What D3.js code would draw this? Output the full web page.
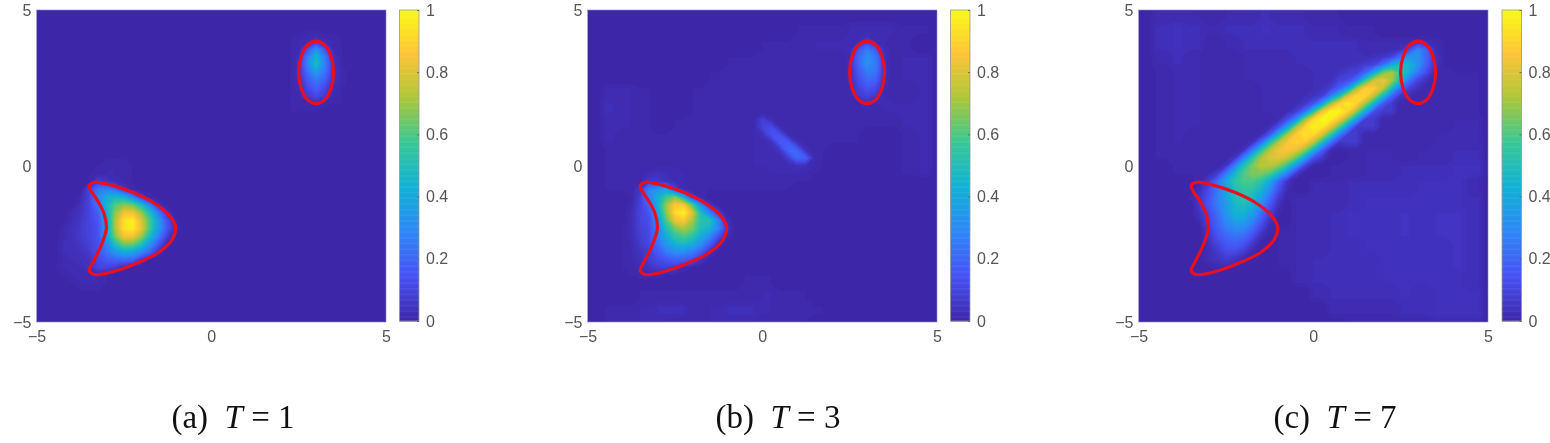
<!DOCTYPE html>
<html><head><meta charset="utf-8">
<script src="https://cdnjs.cloudflare.com/ajax/libs/d3/7.8.5/d3.min.js"></script>
<style>html,body{margin:0;background:#fff}svg{display:block}</style></head>
<body><svg id="c" width="1550" height="443"></svg>
<script>
// Colour map stops
const colorStops = ["#3e26a8","#4852f4","#2e87f7","#12b1d6","#37c897","#abc739","#fec338","#f9fb15"];
const xTicks = [-5,0,5], yTicks = [-5,0,5], barTicks = [0,0.2,0.4,0.6,0.8,1];
const captionLabels = ["(a)","(b)","(c)"], captionT = ["1","3","7"];

// Red outlines, data coordinates
const crescentX = [-3.33,-2.81,-2.23,-1.66,-1.23,-1.02,-1.13,-1.52,-2.04,-2.61,-3.09,-3.38,-3.49,-3.38,-3.19,-3.03,-3.0,-3.07,-3.26,-3.45,-3.49];
const crescentY = [-0.52,-0.63,-0.85,-1.17,-1.55,-1.95,-2.38,-2.78,-3.07,-3.32,-3.46,-3.47,-3.34,-3.07,-2.65,-2.17,-1.95,-1.52,-1.10,-0.78,-0.62];
const ellipseX = [3,3.25,3.43,3.5,3.43,3.25,3,2.75,2.57,2.5,2.57,2.75];
const ellipseY = [4,3.87,3.5,3,2.5,2.13,2,2.13,2.5,3,3.5,3.87];

// Density rows in percent: [y, first x, values at 0.25 steps...]
const densityA = [
[0.25,-3,1,1,1],
[0,-3.25,1,1,2,1,1],
[-0.25,-3.5,1,2,2,2,1,1],
[-0.5,-3.5,1,8,6,3,2,1],
[-0.75,-3.5,10,25,28,22,6,2],
[-1,-3.75,2,10,30,42,48,45,30,8,2],
[-1.25,-3.75,4,10,24,45,62,68,65,50,28,5],
[-1.5,-4,2,5,10,18,42,68,85,85,70,50,25,5],
[-1.75,-4,3,6,10,15,38,72,94,98,80,58,35,14,1],
[-2,-4.25,2,4,7,10,14,36,72,94,97,82,58,35,15,3],
[-2.25,-4.25,2,4,7,10,14,38,66,85,85,70,48,27,8],
[-2.5,-4.25,3,4,6,9,13,28,52,66,65,52,34,15,2],
[-2.75,-4.25,3,4,5,7,14,25,35,42,40,32,20,4],
[-3,-4.25,2,3,4,5,12,17,20,22,20,7,1],
[-3.25,-4.5,1,2,2,3,5,10,10,8,2],
[-3.5,-4.25,1,2,2,2,2,1],
[-3.75,-4,1,2,2,2,1],
[-4,-3.75,1,1,1],
// ellipse
[4.25,2.5,1,2,2,1,1],
[4,2.25,1,2,3,6,3,2,1],
[3.75,2.25,1,2,14,32,15,2,1],
[3.5,2.25,1,4,26,46,27,5,1],
[3.25,2.25,1,4,28,50,28,5,1],
[3,2.25,1,4,22,36,24,5,2],
[2.75,2.25,1,3,16,26,18,4,2],
[2.5,2.25,1,3,11,19,12,3,1],
[2.25,2.25,1,2,8,12,8,2,1],
[2,2.25,1,1,2,3,2,1,1],
[1.75,2.25,1,1,1,1]
];
const densityB = [
[0,-3.25,1,2,2,2,1,1],
[-0.25,-3.5,1,3,4,3,2,2,1],
[-0.5,-3.5,2,8,7,5,3,2,1],
[-0.75,-3.5,6,28,35,38,12,3,1],
[-1,-3.75,1,8,28,42,58,68,45,8,2],
[-1.25,-3.75,2,9,20,42,70,88,88,62,30,5,1],
[-1.5,-3.75,3,10,15,38,68,92,99,80,48,28,8,1],
[-1.75,-3.75,3,10,13,32,60,82,88,72,52,52,28,3],
[-2,-4,1,3,9,12,28,50,65,72,65,50,45,28,6],
[-2.25,-4,1,3,8,12,26,42,55,60,55,42,30,14,2],
[-2.5,-4,1,2,7,11,22,35,44,48,42,32,18,3],
[-2.75,-4,1,2,5,9,17,26,32,32,27,18,4,1],
[-3,-4,1,2,4,8,12,16,19,18,14,5,1],
[-3.25,-4,1,1,3,5,8,8,7,3,1],
[-3.5,-3.75,1,2,2,2,1,1],
// faint streak
[1.75,-0.25,1,1,1],
[1.5,-0.25,2,8,3,1,1],
[1.25,-0.5,1,2,10,13,3,1,1],
[1,-0.5,1,2,4,14,14,3,1,1],
[0.75,-0.5,1,2,2,4,16,17,4,1,1],
[0.5,-0.5,1,2,2,2,6,20,20,5,1,1],
[0.25,-0.5,1,2,2,2,2,8,20,18,2,1],
[0,-0.5,1,2,2,2,2,2,4,3,2,1],
[-0.25,-0.25,1,1,2,2,2,2,2,1],
[-0.5,-0.25,1,1,1,1,1,1,1],
// ellipse
[4.25,2.25,1,1,2,2,2,1,1],
[4,2.25,1,2,3,8,3,2,1],
[3.75,2.25,1,2,14,26,16,3,1],
[3.5,2.25,1,3,20,32,25,4,1],
[3.25,2.25,1,3,20,33,26,4,1],
[3,2.25,1,3,16,26,24,4,1],
[2.75,2.25,1,3,13,21,19,3,1],
[2.5,2.25,1,2,10,15,12,3,1],
[2.25,2.25,1,2,7,10,7,2,1],
[2,2.25,1,1,2,4,2,1,1],
[1.75,2.25,1,1,1,1,1,1]
];
const densityC = [
[4,2.75,2,3,3,2],
[3.75,2.5,4,12,28,18,3],
[3.5,1.5,3,4,6,10,22,35,33,20,5],
[3.25,0.75,3,4,5,8,10,22,40,50,45,33,18,4],
[3,0.5,3,5,8,10,20,42,65,72,55,42,25,12,2],
[2.75,0.25,3,4,10,12,25,55,78,84,72,48,24,10,4],
[2.5,0,3,5,8,18,35,70,88,88,76,50,22,10,4],
[2.25,-0.25,3,5,8,25,50,80,92,90,74,48,20,6,3],
[2,-0.5,3,6,14,36,70,90,97,90,70,44,16,2],
[1.75,-0.75,3,8,22,52,84,98,99,90,68,40,12,1],
[1.5,-1,3,12,30,66,92,100,98,86,64,35,8,1],
[1.25,-1.25,3,14,38,70,90,98,96,82,60,30,6,1],
[1,-1.5,3,16,45,72,88,94,92,78,55,26,4],
[0.75,-1.75,4,22,52,74,86,90,88,74,50,22,3],
[0.5,-2,5,26,55,74,84,86,82,68,44,18,2],
[0.25,-2.25,6,28,54,72,80,82,76,62,38,14,2],
[0,-2.5,6,28,52,66,74,74,68,54,32,10,1],
[-0.25,-3,2,8,26,46,60,67,66,60,46,26,7],
[-0.5,-3.25,2,8,22,40,54,60,60,54,40,20,5],
[-0.75,-3.25,4,12,24,38,50,55,54,46,32,14,3],
[-1,-3.5,2,6,14,26,38,50,54,48,38,24,8,1],
[-1.25,-3.25,7,15,26,36,46,50,44,32,16,4],
[-1.5,-3.25,5,12,22,34,44,45,38,24,10,2],
[-1.75,-3.25,3,10,20,30,38,38,30,17,5],
[-2,-3,8,18,26,30,30,22,10,2],
[-2.25,-3,6,14,20,24,22,14,4],
[-2.5,-3,4,10,16,18,15,7,1],
[-2.75,-3,3,7,12,12,8,2],
[-3,-3.25,1,3,5,7,5,2],
[-3.25,-3,1,2,2,1]
];
// Faint background tiles in percent: [y, first x, values at 0.5 steps...]
const hazeB = [
[4.5,1,1,1,1,2,2,2,1,1],
[4,0,1,1,1,2,2,1,1,1,1],
[3.5,-1,1,1,1,1,1,1,1,1,1,1,2,2],
[3,-1.5,1,1,1,1,1,1,1,1,1,1,1,2,2],
[2.5,-4.5,2,2,1,0,0,1,1,1,1,1,1,1,1,1,1,1,1,1,2],
[2,-4.5,3,2,1,0,0,1,1,1,1,1,1,1,1,1,1,1,2,2,2],
[1.5,-4.5,2,2,1,0,1,1,1,1,1,1,1,1,1,1,1,1,1,2,2],
[1,-4.5,2,1,1,1,1,1,1,1,1,1,1,1,1,1,1,0,0,1,2],
[0.5,-4.5,1,1,1,1,1,1,1,1,1,1,1,1,0,0,0,0,0,1,2],
[0,-4.5,1,1,1,1,1,1,1,1,1,1,1,0,0,0,0,0,0,1,2],
[-0.5,-4.5,1,1,1,1,1,1,1,1,1,1,1],
[-3.5,-0.5,1,1],
[-4,-3.5,1,1,1,1,1,1,1,2,1,1],
[-4.5,-4.5,1,1,2,3,3,1,2,3,3,2,1,1,1],
[-5,-4.5,1,1,2,2,1,1,2,2,2,1,1,1]
];
const hazeC = [
[5,-4.5,2,2,2,1,2,2,3,2,2,1,1],
[4.5,-4.5,3,4,3,2,3,3,4,3,3,2,2,1,1],
[4,-4.5,3,4,3,1,2,3,3,3,3,3,3,3,2,2,2,1,1],
[3.5,-4.5,2,3,2,1,1,2,2,2,3,3,3,3,3,3,2,2,1],
[3,-4.5,1,2,2,1,1,2,2,2,2,3,3,4,4],
[2.5,-4.5,1,2,2,1,1,1,2,2,2,3,3,4,5,6],
[2,-4.5,1,2,2,1,1,1,2,2,2,3,4,4,6,7],
[1.5,-4.5,1,2,2,1,1,1,1,2,2,3,4,5,7],
[1,-4.5,1,2,1,1,1,1,1,2,2,4,5,7],
[0.5,-4.5,1,1,1,1,1,1,1,2,4,6],
[0,-4.5,0,1,1,1,1,1,2,4],
[3,3,1,1,1,1],[2.5,2.5,1,1,1,1,1],[2,2.5,1,1,1,1,1],
[1.5,1.5,1,1,1,1,1,2,2],[1,1.5,1,1,1,1,2,2,2],
[0.5,1,1,2,2,1,2,2,3,3],
[0,0.5,1,1,2,2,3,3,3,4,4],
[-0.5,0,2,2,3,3,3,3,4,4,4,2],
[-1,-0.5,2,2,2,3,4,4,4,4,4,4,3],
[-1.5,-0.5,2,2,3,4,4,4,5,4,5,5,3],
[-2,-1,1,2,2,3,4,4,4,5,4,5,5,3],
[-2.5,-1,1,2,2,3,3,4,4,4,4,4,5,3],
[-3,-1,1,2,3,3,3,3,4,4,4,4,5,3],
[-3.5,-0.5,2,3,3,3,3,4,4,4,4,4,3],
[-4,0,2,3,3,3,3,4,3,4,4,4],
[-4.5,0.5,2,2,2,2,3,3,4,4,4],
[-5,1,1,1,1,1,1,2,2,2]
];

// Layout
const panels = [
  {d:densityA,h:[],    x0:36.5, x1:386,  bx:399.5, cap:233},
  {d:densityB,h:hazeB, x0:587.5,x1:937,  bx:950.5, cap:778},
  {d:densityC,h:hazeC, x0:1138.5,x1:1488,bx:1502,  cap:1335}
];
const plotTop = 10, plotBottom = 322, barW = 19.5;
const TICK = "#555", N = 41;

const color = d3.scaleLinear().domain(colorStops.map((_,i)=>i/7)).range(colorStops).interpolate(d3.interpolateRgb);
const svg = d3.select("#c").style("filter","blur(0.55px)");

function buildGrid(p){
  const g = new Float64Array(N*N);
  const ix = x=>Math.round((x+5)/0.25), iy = y=>Math.round((5-y)/0.25);
  const set=(i,j,v)=>{ if(i>=0&&i<N&&j>=0&&j<N){const k=j*N+i; g[k]=Math.max(g[k],v/100);} };
  p.h.forEach(r=>r.slice(2).forEach((v,k)=>{
    const i=ix(r[1]+k*0.5), j=iy(r[0]);
    set(i,j,v); set(i+1,j,v); set(i,j+1,v); set(i+1,j+1,v);
  }));
  p.d.forEach(r=>r.slice(2).forEach((v,k)=>{ set(ix(r[1]+k*0.25), iy(r[0]), v); }));
  return g;
}

panels.forEach((p,idx)=>{
  const X = d3.scaleLinear().domain([-5,5]).range([p.x0,p.x1]);
  const Y = d3.scaleLinear().domain([-5,5]).range([plotBottom,plotTop]);
  const root = svg.append("g");
  const cid = "clip"+idx;
  root.append("clipPath").attr("id",cid).append("rect")
    .attr("x",p.x0).attr("y",plotTop).attr("width",p.x1-p.x0).attr("height",plotBottom-plotTop);
  const plot = root.append("g").attr("clip-path",`url(#${cid})`);
  plot.append("rect").attr("x",p.x0).attr("y",plotTop).attr("width",p.x1-p.x0).attr("height",plotBottom-plotTop).attr("fill",color(0));

  const path = d3.geoPath(d3.geoTransform({point(x,y){
    this.stream.point(X(-5+(x-0.5)*0.25), Y(5-(y-0.5)*0.25));
  }}));
  const contours = d3.contours().size([N,N]).thresholds(d3.range(0.01,1.001,0.01))(Array.from(buildGrid(p)));
  plot.selectAll("path.band").data(contours).join("path").attr("class","band")
    .attr("d",path).attr("fill",d=>color(d.value));

  const closed = d3.line().x(d=>X(d[0])).y(d=>Y(d[1])).curve(d3.curveCatmullRomClosed);
  [[crescentX,crescentY],[ellipseX,ellipseY]].forEach(([xs,ys])=>{
    root.append("path").attr("d",closed(xs.map((x,i)=>[x,ys[i]])))
      .attr("fill","none").attr("stroke","#e8101e").attr("stroke-width",3.2);
  });
  root.append("rect").attr("x",p.x0).attr("y",plotTop).attr("width",p.x1-p.x0).attr("height",plotBottom-plotTop)
    .attr("fill","none").attr("stroke","#8d88bd").attr("stroke-width",0.6);

  const styleAxis = g=>{
    g.select(".domain").remove();
    g.selectAll("text").attr("fill",TICK).style("font-family","'Liberation Sans',Arial,sans-serif").style("font-size","16px");
  };
  root.append("g").attr("transform",`translate(0,${plotBottom})`)
    .call(d3.axisBottom(X).tickValues(xTicks).tickSize(0).tickPadding(9).tickFormat(d3.format("d"))).call(styleAxis);
  root.append("g").attr("transform",`translate(${p.x0},0)`)
    .call(d3.axisLeft(Y).tickValues(yTicks).tickSize(0).tickPadding(5).tickFormat(d3.format("d"))).call(styleAxis);

  // Colour bar
  const B = d3.scaleLinear().domain([0,1]).range([321,10]);
  const bar = root.append("g");
  bar.selectAll("rect").data(d3.range(0,1,1/256)).join("rect")
    .attr("x",p.bx).attr("width",barW)
    .attr("y",d=>B(d+1/256)).attr("height",d=>B(d)-B(d+1/256)+0.5)
    .attr("fill",d=>color(d));
  root.append("rect").attr("x",p.bx).attr("y",10).attr("width",barW).attr("height",311)
    .attr("fill","none").attr("stroke","#9a9a9a").attr("stroke-width",0.8);
  root.append("g").attr("transform",`translate(${p.bx+barW},0)`)
    .call(d3.axisRight(B).tickValues(barTicks).tickSize(-2).tickPadding(7).tickFormat(d3.format("~g")))
    .call(styleAxis).call(g=>g.selectAll("line").attr("stroke","#666"));

  // Caption
  const t = root.append("text").attr("x",p.cap).attr("y",428).attr("text-anchor","middle")
    .attr("fill","#111").style("font-family","'Liberation Serif',serif").style("font-size","33px");
  t.append("tspan").text(captionLabels[idx]+"\u00a0\u00a0");
  t.append("tspan").attr("font-style","italic").text("T");
  t.append("tspan").text("\u00a0=\u00a0"+captionT[idx]);
});
</script></body></html>
